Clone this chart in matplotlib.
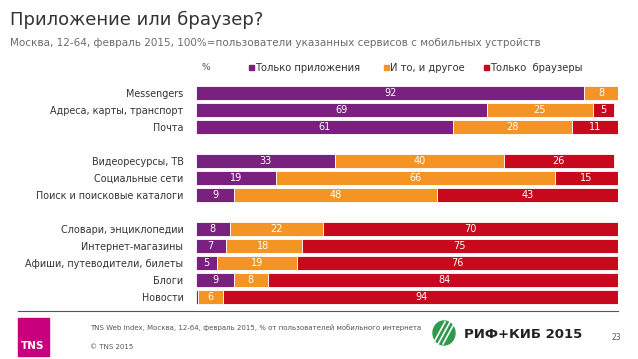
import matplotlib
matplotlib.use("Agg")
import matplotlib.pyplot as plt
from matplotlib.patches import Rectangle, Ellipse
import numpy as np

categories = ["Messengers", "Адреса, карты, транспорт", "Почта",
              "Видеоресурсы, ТВ", "Социальные сети", "Поиск и поисковые каталоги",
              "Словари, энциклопедии", "Интернет-магазины", "Афиши, путеводители, билеты",
              "Блоги", "Новости"]
row_pos = [0, 1, 2, 4, 5, 6, 8, 9, 10, 11, 12]
apps_only = [92, 69, 61, 33, 19, 9, 8, 7, 5, 9, 0.5]
both = [8, 25, 28, 40, 66, 48, 22, 18, 19, 8, 6]
browser_only = [0, 5, 11, 26, 15, 43, 70, 75, 76, 84, 94]
apps_labels = ["92", "69", "61", "33", "19", "9", "8", "7", "5", "9", ""]
both_labels = ["8", "25", "28", "40", "66", "48", "22", "18", "19", "8", "6"]
browser_labels = ["", "5", "11", "26", "15", "43", "70", "75", "76", "84", "94"]
series_names = ["Только приложения", "И то, и другое", "Только  браузеры"]

colors = ["#7A217F", "#F39425", "#C8081C"]
W, H = 638, 359
fig = plt.figure(figsize=(W / 100, H / 100), dpi=100)
plt.rcParams['font.family'] = ['DejaVu Sans']

def fx(px):
    return px / W

def fy(py):
    return 1 - py / H

ax = fig.add_axes([fx(196), fy(305.5), fx(618) - fx(196), (305.5 - 84.5) / H])
left = np.zeros(len(categories))
for vals, labs, c in zip([apps_only, both, browser_only],
                         [apps_labels, both_labels, browser_labels], colors):
    vals = np.array(vals, dtype=float)
    ax.barh(row_pos, vals, left=left, height=0.82, color=c, edgecolor="white", linewidth=0.6)
    for y, l, v, lab in zip(row_pos, left, vals, labs):
        if lab:
            ax.text(l + v / 2, y, lab, ha="center", va="center", color="white", fontsize=7)
    left += vals
ax.set_xlim(0, 100)
ax.set_ylim(12.5, -0.5)
ax.set_yticks(row_pos)
ax.set_yticklabels(categories, fontsize=6.9, color="#333333")
ax.tick_params(axis="y", length=0, pad=9)
ax.set_xticks([])
for s in ax.spines.values():
    s.set_visible(False)

# Titles
fig.text(fx(10), fy(20), "Приложение или браузер?", fontsize=13, color="#333333",
         va="center", ha="left")
fig.text(fx(10), fy(43), "Москва, 12-64, февраль 2015, 100%=пользователи указанных сервисов с мобильных устройств",
         fontsize=7.5, color="#6b6b6b", va="center", ha="left")

# Legend
fig.text(fx(202), fy(67), "%", fontsize=6.5, color="#555555", va="center")
leg_x = [249, 384, 484]
for x, name, c in zip(leg_x, series_names, colors):
    fig.patches.append(Rectangle((fx(x), fy(70)), fx(5), 5 / H, transform=fig.transFigure,
                                 color=c))
    fig.text(fx(x + 6), fy(68), name, fontsize=7.2, color="#333333", va="center")

# Footer
fig.add_artist(plt.Line2D([fx(18), fx(618)], [fy(311), fy(311)], color="#555555", lw=0.8,
                          transform=fig.transFigure))
fig.patches.append(Rectangle((fx(18), fy(356)), fx(31), 38 / H, transform=fig.transFigure,
                             color="#C8007D"))
fig.text(fx(33), fy(346), "TNS", fontsize=7.5, color="white", fontweight="bold",
         ha="center", va="center")
fig.text(fx(90), fy(328), "TNS Web Index, Москва, 12-64, февраль 2015, % от пользователей мобильного интернета",
         fontsize=5, color="#555555", va="center")
fig.text(fx(90), fy(347), "© TNS 2015", fontsize=5, color="#555555", va="center")
fig.patches.append(Ellipse((fx(444), fy(333)), 22 / W, 24 / H, transform=fig.transFigure,
                           color="#2E9A4E"))
for dx in (-5, 0, 5):
    fig.add_artist(plt.Line2D([fx(444 + dx - 6), fx(444 + dx + 6)], [fy(344), fy(322)],
                              color="white", lw=1.2, transform=fig.transFigure))
fig.text(fx(464), fy(334), "РИФ+КИБ 2015", fontsize=9.5, fontweight="bold", color="#222222",
         va="center")
fig.text(fx(621), fy(338), "23", fontsize=5.5, color="#555555", va="center", ha="right")

fig.savefig("out.png", dpi=100)
